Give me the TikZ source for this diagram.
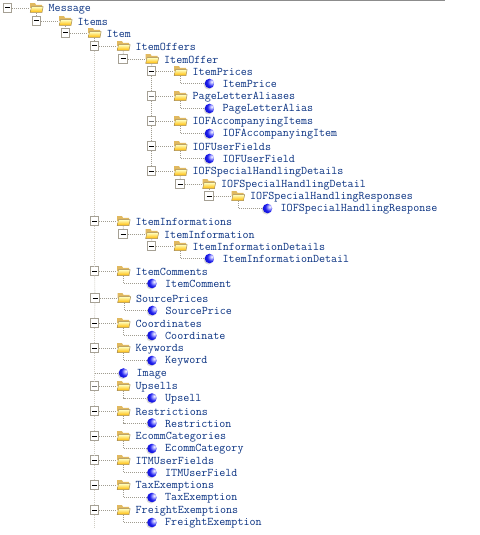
\documentclass[tikz,border=0pt]{standalone}
\usetikzlibrary{shadows}
\definecolor{treeblue}{RGB}{10,50,130}
\definecolor{treegray}{RGB}{160,156,144}
\definecolor{treelight}{RGB}{208,205,196}
\definecolor{boxgray}{RGB}{165,160,148}
\definecolor{foldback}{RGB}{225,185,95}
\definecolor{foldedge}{RGB}{165,140,85}
\definecolor{dotblue}{RGB}{25,25,235}
\pgfdeclareradialshading{bluedot}{\pgfpoint{12bp}{10bp}}{%
	color(0bp)=(white); color(9bp)=(blue!35!white); color(22bp)=(dotblue);
	color(45bp)=(dotblue!85!black); color(60bp)=(dotblue!45!black); color(100bp)=(black)}
\tikzset{
	treeline/.style={treegray,line width=0.8pt,dash pattern=on 1pt off 1pt},
	trunkline/.style={treelight,line width=0.8pt,dash pattern=on 1pt off 1pt},
	togglebox/.style={draw=boxgray,fill=white,line width=0.9pt,minimum size=8.5pt,inner sep=0pt,
		path picture={\draw[black,line width=1pt] ([xshift=-2.5pt]path picture bounding box.center) -- ([xshift=2.5pt]path picture bounding box.center);}},
	togglefaint/.style={draw=boxgray,fill=white,line width=0.9pt,minimum size=8.5pt,inner sep=0pt,
		path picture={\draw[black!55,line width=1pt] ([xshift=-2.5pt]path picture bounding box.center) -- ([xshift=2.5pt]path picture bounding box.center);}},
	foldernode/.style={minimum width=14pt,minimum height=10.5pt,inner sep=0pt,
		path picture={
			\begin{scope}[shift={(path picture bounding box.center)}]
				\fill[foldback] (-6.3,0) -- (-6.3,-4.8) -- (-1.5,-4.8) -- (-0.5,-3.2) -- (5.5,-3.2) -- (5.5,0) -- cycle;
				\shade[top color=yellow!25!white,bottom color=orange!55!yellow,draw=foldedge,line width=0.5pt]
					(-6.3,4.5) -- (-5,-1.3) -- (6.6,-1.3) -- (5.5,4.5) -- cycle;
			\end{scope}}},
	balldot/.style={circle,shading=bluedot,minimum size=9.6pt,inner sep=0pt,
		drop shadow={shadow xshift=-1pt,shadow yshift=-1.2pt,opacity=0.3}},
	treetext/.style={anchor=west,inner sep=0pt,text=treeblue,font=\fontsize{11.7}{13}\ttfamily\selectfont}
}
% one row with a folder, one row with a ball
\newcommand{\foldrow}[5]{
	\node[#5] (#1box) at (#2,#3) {};
	\node[foldernode] (#1dir) at (#2+29,#3) {};
	\node[treetext] (#1txt) at (#2+41,#3+0.8) {#4};
	\draw[treeline] (#1box) -- (#1dir);
}
\newcommand{\leafrow}[4]{
	\node[balldot] (#1ball) at (#2,#3) {};
	\node[treetext] (#1txt) at (#2+13,#3+0.8) {#4};
}
\begin{document}
\begin{tikzpicture}[x=1pt,y=-1pt]
	\useasboundingbox (0,0) rectangle (479,535);
	
	\coordinate (topleft) at (37,1);
	\coordinate (topright) at (445,1);
	\draw[black!45,line width=1pt] (topleft) -- (topright);
	
	% folders
	\foreach \name/\lx/\ly/\lab/\sty in {
		msg/7.5/8/Message/togglebox, items/36.5/21/Items/togglebox, item/65.5/33/Item/togglebox,
		offers/94.5/46/ItemOffers/togglebox, offer/123/59/ItemOffer/togglebox,
		prices/151.5/71/ItemPrices/togglebox, aliases/151.5/96/PageLetterAliases/togglefaint,
		accitems/151.5/121/IOFAccompanyingItems/togglefaint, userf/151.5/146/IOFUserFields/togglebox,
		details/151.5/171/IOFSpecialHandlingDetails/togglebox, detail/180/184/IOFSpecialHandlingDetail/togglebox,
		resps/209/196/IOFSpecialHandlingResponses/togglebox,
		infos/94.5/221/ItemInformations/togglebox, info/123/234/ItemInformation/togglebox,
		infodets/151.5/246/ItemInformationDetails/togglebox,
		comments/94.5/271/ItemComments/togglebox, sources/95/298/SourcePrices/togglebox,
		coords/94.5/323/Coordinates/togglebox, keywords/94.5/348/Keywords/togglebox,
		upsells/94.5/386/Upsells/togglefaint, restrs/94.5/411/Restrictions/togglebox,
		ecomms/94.5/436/EcommCategories/togglebox, itmf/94.5/460/ITMUserFields/togglebox,
		taxes/94.5/485/TaxExemptions/togglebox, freights/94.5/510/FreightExemptions/togglebox}
		{\foldrow{\name}{\lx}{\ly}{\lab}{\sty}}
	
	% balls
	\foreach \name/\lx/\ly/\lab in {
		price/209.5/83.5/ItemPrice, alias/209.5/108.5/PageLetterAlias,
		accitem/209.5/133.5/IOFAccompanyingItem, userfd/209.5/158.5/IOFUserField,
		resp/267.5/208.5/IOFSpecialHandlingResponse, infodet/209.5/258.5/ItemInformationDetail,
		comment/152/283.5/ItemComment, source/152.5/310.5/SourcePrice,
		coord/152/335.5/Coordinate, keyword/152/360.5/Keyword,
		image/123.5/373/Image, upsell/152/398/Upsell,
		restr/152/423/Restriction, ecomm/152/448.5/EcommCategory,
		itmfd/152/472.5/ITMUserField, tax/152/497.5/TaxExemption,
		freight/152/522.5/FreightExemption}
		{\leafrow{\name}{\lx}{\ly}{\lab}}
	
	% box under the folder above it
	\foreach \a/\b in {msg/items,items/item,item/offers,offers/offer,offer/prices,details/detail,detail/resps,infos/info,info/infodets}
		\draw[treeline] (\a dir) -- (\b box);
	
	% ball under the folder above it
	\foreach \a/\b in {prices/price,aliases/alias,accitems/accitem,userf/userfd,resps/resp,infodets/infodet,
		comments/comment,sources/source,coords/coord,keywords/keyword,upsells/upsell,restrs/restr,ecomms/ecomm,itmf/itmfd,taxes/tax,freights/freight}
		\draw[treeline] (\a dir.south) |- (\b ball.west);
	
	% long runs between boxes
	\foreach \a/\b in {prices/aliases,aliases/accitems,accitems/userf,userf/details}
		\draw[treeline] (\a box) -- (\b box);
	\foreach \a/\b in {offers/infos,infos/comments,comments/sources,sources/coords,coords/keywords,keywords/upsells,upsells/restrs,restrs/ecomms,ecomms/itmf,itmf/taxes,taxes/freights}
		\draw[trunkline] (\a box) -- (\b box);
	\coordinate (trunkend) at (94.5,528);
	\draw[trunkline] (freightsbox) -- (trunkend);
	\coordinate (imagejoin) at (94.5,373);
	\draw[treeline] (imagejoin) -- (imageball);
\end{tikzpicture}
\end{document}
